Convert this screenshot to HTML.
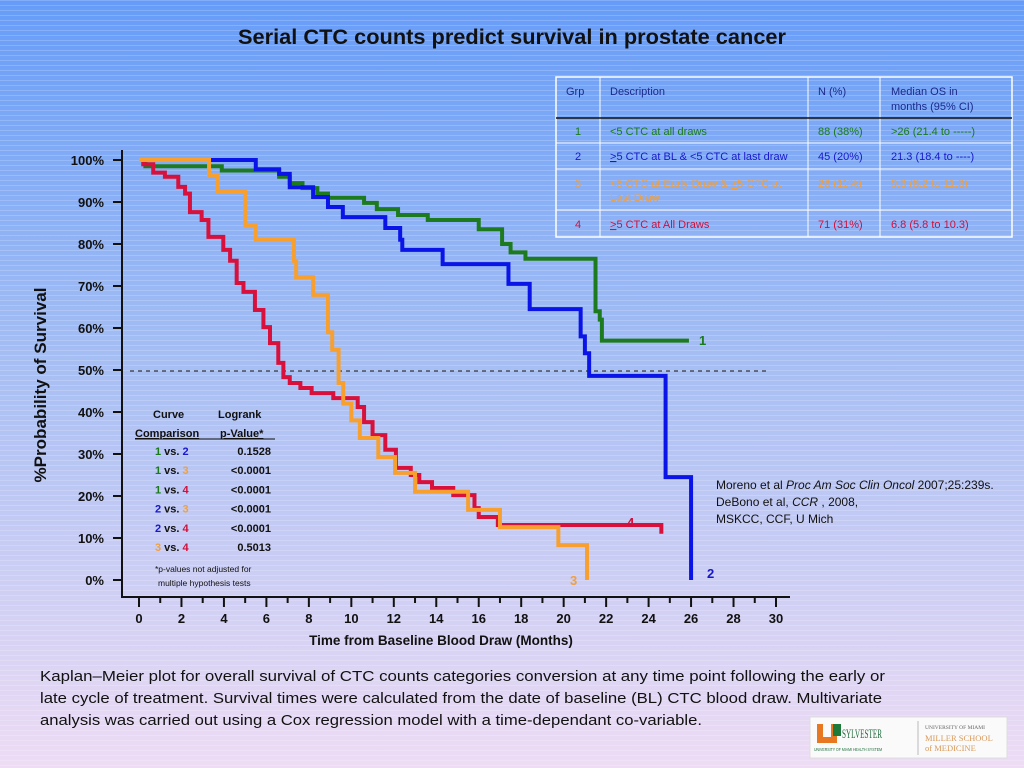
<!DOCTYPE html>
<html><head><meta charset="utf-8"><style>
html,body{margin:0;padding:0;width:1024px;height:768px;overflow:hidden}
svg{display:block;font-family:"Liberation Sans",sans-serif}
</style></head><body>
<svg id="chart" width="1024" height="768" viewBox="0 0 1024 768" xmlns="http://www.w3.org/2000/svg">
<defs>
<linearGradient id="bg" x1="0" y1="0" x2="0" y2="1">
<stop offset="0" stop-color="#669cf8"/><stop offset="0.45" stop-color="#a3bdf4"/><stop offset="1" stop-color="#eedcf4"/>
</linearGradient>
<pattern id="stripes" width="10" height="5" patternUnits="userSpaceOnUse"><rect y="0" width="10" height="1" fill="#ffffff" opacity="0.18"/></pattern>
</defs>
<rect width="1024" height="768" fill="url(#bg)"/>
<rect width="1024" height="768" fill="url(#stripes)"/>
<text x="512" y="44" text-anchor="middle" font-size="21" font-weight="bold" fill="#111" textLength="548" lengthAdjust="spacingAndGlyphs">Serial CTC counts predict survival in prostate cancer</text>

<g id="table" font-size="11">
<rect x="556" y="77" width="456" height="160" fill="none" stroke="#fff" stroke-width="1.5"/>
<line x1="600" y1="77" x2="600" y2="237" stroke="#fff"/>
<line x1="808" y1="77" x2="808" y2="237" stroke="#fff"/>
<line x1="880" y1="77" x2="880" y2="237" stroke="#fff"/>
<line x1="556" y1="118" x2="1012" y2="118" stroke="#111" stroke-width="1.5"/>
<line x1="556" y1="143" x2="1012" y2="143" stroke="#fff"/>
<line x1="556" y1="169" x2="1012" y2="169" stroke="#fff"/>
<line x1="556" y1="210" x2="1012" y2="210" stroke="#fff"/>
<g fill="#1a2a8a"><text x="566" y="95">Grp</text><text x="610" y="95">Description</text><text x="818" y="95">N (%)</text><text x="891" y="95">Median OS in</text><text x="891" y="110">months (95% CI)</text></g>
<g fill="#1a7a1a"><text x="575" y="135">1</text><text x="610" y="135">&lt;5 CTC at all draws</text><text x="818" y="135">88 (38%)</text><text x="891" y="135">&gt;26  (21.4 to -----)</text></g>
<g fill="#1818c8"><text x="575" y="160">2</text><text x="610" y="160"><tspan text-decoration="underline">&gt;</tspan>5 CTC at BL &amp; &lt;5 CTC at last draw</text><text x="818" y="160">45 (20%)</text><text x="891" y="160">21.3  (18.4 to ----)</text></g>
<g fill="#f0a040"><text x="575" y="187">3</text><text x="610" y="187">&lt;5 CTC at Early Draw &amp; <tspan text-decoration="underline">&gt;</tspan>5 CTC at</text><text x="610" y="201">Last Draw</text><text x="818" y="187">26 (11%)</text><text x="891" y="187">9.3  (8.2 to 11.3)</text></g>
<g fill="#d0103a"><text x="575" y="228">4</text><text x="610" y="228"><tspan text-decoration="underline">&gt;</tspan>5 CTC at All Draws</text><text x="818" y="228">71 (31%)</text><text x="891" y="228">6.8  (5.8 to 10.3)</text></g>
</g>

<g id="axes"></g>
<line x1="130" y1="371" x2="770" y2="371" stroke="#111" stroke-width="1" stroke-dasharray="4,4"/>
<g id="series"></g>

<text x="46" y="385" transform="rotate(-90 46 385)" text-anchor="middle" font-size="17" font-weight="bold" fill="#111" textLength="195" lengthAdjust="spacingAndGlyphs">%Probability of Survival</text>
<text x="441" y="645" text-anchor="middle" font-size="13.5" font-weight="bold" fill="#111">Time from Baseline Blood Draw (Months)</text>

<g font-size="13" font-weight="bold">
<text x="699" y="345" fill="#1a7a1a">1</text>
<text x="707" y="578" fill="#1818c8">2</text>
<text x="570" y="585" fill="#f0a040">3</text>
<text x="627" y="527" fill="#d0103a">4</text>
</g>

<g id="stats" font-size="11" font-weight="bold" fill="#111">
<text x="153" y="418">Curve</text><text x="218" y="418">Logrank</text>
<text x="135" y="437" text-decoration="underline">Comparison</text><text x="220" y="437" text-decoration="underline">p-Value*</text>
<line x1="135" y1="439" x2="275" y2="439" stroke="#111"/>
</g>
<g font-size="8.5" fill="#111">
<text x="155" y="572">*p-values not adjusted for</text><text x="158" y="586">multiple hypothesis tests</text>
</g>

<g font-size="12" fill="#111">
<text x="716" y="489">Moreno et al <tspan font-style="italic">Proc Am Soc Clin Oncol</tspan> 2007;25:239s.</text>
<text x="716" y="506">DeBono et al, <tspan font-style="italic">CCR</tspan> , 2008,</text>
<text x="716" y="523">MSKCC, CCF, U Mich</text>
</g>

<g font-size="15" fill="#111">
<text x="40" y="681" textLength="845" lengthAdjust="spacingAndGlyphs">Kaplan–Meier plot for overall survival of CTC counts categories conversion at any time point following the early or</text>
<text x="40" y="703" textLength="842" lengthAdjust="spacingAndGlyphs">late cycle of treatment. Survival times were calculated from the date of baseline (BL) CTC blood draw. Multivariate</text>
<text x="40" y="725" textLength="662" lengthAdjust="spacingAndGlyphs">analysis was carried out using a Cox regression model with a time-dependant co-variable.</text>
</g>

<g>
<rect x="810" y="717" width="197" height="41" fill="#fafafa" stroke="#ddd"/>
<path d="M817 724h6v13h8v-13h6v19h-20z" fill="#e87722"/>
<rect x="833" y="724" width="8" height="12" fill="#1e7a3a"/>
<text x="842" y="738" font-family="'Liberation Serif',serif" font-size="13" fill="#1e6a3a" textLength="40" lengthAdjust="spacingAndGlyphs">SYLVESTER</text>
<text x="814" y="751" font-size="4.5" fill="#1e6a3a" textLength="68" lengthAdjust="spacingAndGlyphs">UNIVERSITY OF MIAMI HEALTH SYSTEM</text>
<line x1="918" y1="721" x2="918" y2="755" stroke="#bbb"/>
<text x="925" y="729" font-family="'Liberation Serif',serif" font-size="5.5" fill="#666">UNIVERSITY OF MIAMI</text>
<text x="925" y="741" font-family="'Liberation Serif',serif" font-size="8.5" fill="#d89a5a">MILLER SCHOOL</text>
<text x="925" y="751" font-family="'Liberation Serif',serif" font-size="8.5" fill="#d89a5a">of MEDICINE</text>
</g>
</svg>
<script>
const xTicks = [0,2,4,6,8,10,12,14,16,18,20,22,24,26,28,30];
const yTicks = [0,10,20,30,40,50,60,70,80,90,100];
const g1Times = [0,0.3,3.9,6.6,7.1,7.7,8.4,8.9,10.6,11.2,12.2,13.6,16.0,17.1,17.5,18.2,21.5,21.7,21.8,25.9];
const g1Surv  = [100,98.5,97.5,96,94.5,93.3,92,91,89.8,88.3,86.9,85.7,83.5,80,78,76.5,64,62,57,57];
const g2Times = [0,5.5,6.6,7.1,8.2,8.9,9.6,11.6,12.3,12.4,14.3,17.4,18.4,20.8,21.0,21.2,21.5,24.8,26.0];
const g2Surv  = [100,97.8,96.7,93.5,91.2,88.8,86.4,83.8,81,78.6,75.2,70.5,64.5,58,54,48.6,48.6,24.5,0];
const g3Times = [0,3.3,3.7,5.0,5.5,7.3,7.4,8.2,8.9,9.1,9.4,9.62,10.0,10.4,11.27,12.06,13.0,15.5,17.0,19.75,21.1];
const g3Surv  = [100,96.4,92.4,84.5,81,76,72.1,67.9,59,54.8,46.9,42,38,33.8,29.3,25.5,21,16.7,12.6,8.3,0];
const g4Times = [0,0.2,0.67,1.22,1.85,2.17,2.4,2.95,3.27,3.97,4.29,4.6,4.92,5.46,5.86,6.17,6.56,6.8,7.1,7.6,8.13,9.15,10.3,10.6,11.0,11.6,12.1,12.8,13.2,13.8,14.8,15.8,16.0,16.9,24.6];
const g4Surv  = [100,99,97,96,93.6,92,87.6,85.7,81.7,78.6,76,70.7,68.6,64.3,60.2,56.4,51.7,48.3,46.9,45.7,44.5,43.3,41.2,37.6,34.5,31,26.7,25,23.3,21.9,20.2,17.1,15,13.1,11,11];
const comparisons = [["1","2","0.1528"],["1","3","<0.0001"],["1","4","<0.0001"],["2","3","<0.0001"],["2","4","<0.0001"],["3","4","0.5013"]];

const NS='http://www.w3.org/2000/svg';
const X = m => 139 + m*(776-139)/30;
const Y = p => 580 - p*4.2;
function mk(tag, attrs, parent){const e=document.createElementNS(NS,tag);for(const k in attrs)e.setAttribute(k,attrs[k]);parent.appendChild(e);return e;}
const axes=document.getElementById('axes');
const yl=mk('line',{x1:122,y1:150,x2:122,y2:597,stroke:'#111','stroke-width':2},axes);


const xl=mk('line',{x1:121,y1:597,x2:790,y2:597,stroke:'#111','stroke-width':2},axes);


yTicks.forEach(v=>{
  mk('line',{x1:113,y1:Y(v),x2:122,y2:Y(v),stroke:'#111','stroke-width':2},axes);
  const t=mk('text',{x:104,y:Y(v)+5,'text-anchor':'end','font-size':13,'font-weight':'bold',fill:'#111'},axes);
  t.textContent=v+'%';
  
  
});
for(let m=0;m<=30;m++){
  mk('line',{x1:X(m),y1:597,x2:X(m),y2:m%2===0?607:603,stroke:'#111','stroke-width':2},axes);
}
xTicks.forEach(v=>{
  const t=mk('text',{x:X(v),y:623,'text-anchor':'middle','font-size':13,'font-weight':'bold',fill:'#111'},axes);
  t.textContent=v;
  
  
});
const series=document.getElementById('series');
function step(times,surv,color,name){
  let d='M'+X(times[0])+' '+Y(surv[0]);
  for(let i=1;i<times.length;i++){d+=' H'+X(times[i])+' V'+Y(surv[i]);}
  const p=mk('path',{d:d,fill:'none',stroke:color,'stroke-width':4,'stroke-linejoin':'miter'},series);
  
  
}
step(g1Times,g1Surv,'#1e7a1e','curve-group-1');
step(g2Times,g2Surv,'#0a14e6','curve-group-2');
step(g4Times,g4Surv,'#d8103c','curve-group-4');
step(g3Times,g3Surv,'#f7a030','curve-group-3');
const colors={"1":"#1a7a1a","2":"#1818c8","3":"#f0a040","4":"#d0103a"};
const stats=document.getElementById('stats');
comparisons.forEach((c,i)=>{
  const y=455+i*19.2;
  const t=mk('text',{x:155,y:y},stats);
  t.innerHTML='<tspan fill="'+colors[c[0]]+'">'+c[0]+'</tspan> vs.  <tspan fill="'+colors[c[1]]+'">'+c[1]+'</tspan>';
  
  
  const p=mk('text',{x:271,y:y,'text-anchor':'end'},stats);
  p.textContent=c[2];
  
  
});
</script>
</body></html>
